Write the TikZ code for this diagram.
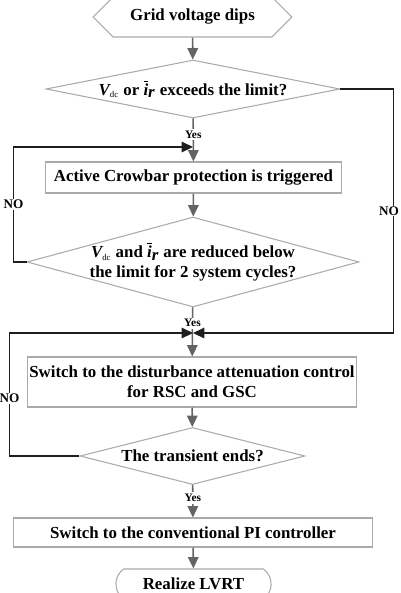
\documentclass[tikz,border=0pt]{standalone}
\usepackage{fontspec}
\setmainfont{Liberation Serif}
\usepackage{tikz}
\usetikzlibrary{shapes.geometric,shapes.symbols,shapes.misc,arrows.meta}

\definecolor{edgegray}{RGB}{170,170,170}
\definecolor{flowgray}{RGB}{100,100,100}
\definecolor{loopblack}{RGB}{30,30,30}

\begin{document}
\begin{tikzpicture}[x=0.02cm,y=-0.02cm,
    font=\bfseries\fontsize{9.6}{11.2}\selectfont,
    flowbox/.style={draw=edgegray,line width=0.6pt,rectangle,inner sep=0pt,align=center},
    decision/.style={draw=edgegray,line width=0.6pt,diamond,inner sep=0pt,align=center},
    flowline/.style={draw=flowgray,line width=0.9pt,-{Triangle[length=6.5pt,width=6pt]}},
    loopline/.style={draw=loopblack,line width=0.9pt,-{Triangle[length=6.5pt,width=6pt]}},
    yeslabel/.style={fill=white,inner sep=1pt,font=\bfseries\fontsize{6.5}{7}\selectfont},
    nolabel/.style={fill=white,inner sep=0.5pt,font=\bfseries\fontsize{7.5}{9}\selectfont}
]
\useasboundingbox (0,0) rectangle (400,593);
\clip (0,0) rectangle (400,593);

% blocks
\node[flowbox,shape=signal,signal from=nowhere,signal to=east and west,signal pointer angle=90,
      minimum width=3.98cm,minimum height=0.8cm] (dips) at (192.5,17) {Grid voltage dips};
\node[decision,minimum width=5.88cm,minimum height=1.16cm,shape aspect=5] (exceed) at (193,89)
      {$\textit{V}_{\textnormal{\tiny dc}}$ or $\overline{\textit{i}}_{\textit{r}}$ exceeds the limit?};
\node[flowbox,minimum width=5.94cm,minimum height=0.62cm] (crowbar) at (193.5,177.5)
      {Active Crowbar protection is triggered};
\node[decision,minimum width=6.64cm,minimum height=1.8cm,shape aspect=3.7,inner ysep=-3pt,inner xsep=-4pt] (reduced) at (193,262)
      {$\textit{V}_{\textnormal{\tiny dc}}$ and $\overline{\textit{i}}_{\textit{r}}$ are reduced below\\the limit for 2 system cycles?};
\node[flowbox,minimum width=6.6cm,minimum height=1.0cm] (attenuation) at (192,382)
      {Switch to the disturbance attenuation control\\for RSC and GSC};
\node[decision,minimum width=4.5cm,minimum height=1.14cm,shape aspect=4] (transient) at (192.5,456)
      {The transient ends?};
\node[flowbox,minimum width=7.2cm,minimum height=0.58cm] (conventional) at (193,532.5)
      {Switch to the conventional PI controller};
\node[draw=edgegray,line width=0.6pt,rounded rectangle,rounded rectangle arc length=110,
      minimum width=3.34cm,minimum height=0.6cm] (lvrt) at (193.5,584) {Realize LVRT};

% main flow
\draw[flowline] (dips) -- (exceed);
\draw[flowline] (exceed) -- node[yeslabel,pos=0.38] {Yes} (crowbar);
\draw[flowline] (crowbar) -- (reduced);
\draw[flowline] (reduced) -- node[yeslabel,pos=0.32] {Yes} (attenuation);
\draw[flowline] (attenuation) -- (transient);
\draw[flowline] (transient) -- node[yeslabel,pos=0.4] {Yes} (conventional);
\draw[flowline] (conventional) -- (lvrt);

% loops back
\coordinate (entrya) at (193,147);
\coordinate (entryb) at (193,333);
\draw[loopline] (reduced.west) -- ++(-13,0) |- node[nolabel,pos=0.25] {NO} (entrya);
\draw[loopline] (exceed.east) -- ++(53,0) |- node[nolabel,pos=0.25,xshift=-2.5pt] {NO} (entryb);
\draw[loopline] (transient.west) -- ++(-70,0) |- node[nolabel,pos=0.235] {NO} (entryb);

\end{tikzpicture}
\end{document}
